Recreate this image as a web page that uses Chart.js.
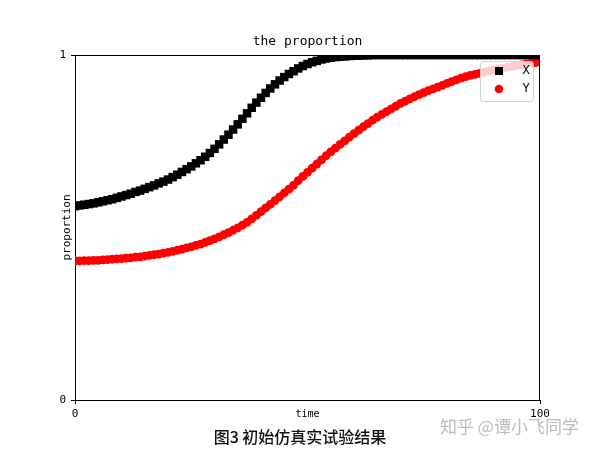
<!DOCTYPE html>
<html><head><meta charset="utf-8">
<script src="https://cdn.jsdelivr.net/npm/chart.js@4.4.0/dist/chart.umd.min.js"></script>
<style>html,body{margin:0;padding:0;background:#fff;}#wrap{width:600px;height:450px;}</style>
</head><body><div id="wrap"><canvas id="c" width="600" height="450"></canvas></div>
<script>
const chartTitle = 'the proportion';
const xAxisTitle = 'time';
const yAxisTitle = 'proportion';
const captionText = '图3 初始仿真实试验结果';
const watermarkText = '知乎 @谭小飞同学';
const xTicks = [0, 100];
const yTicks = [0, 1];
const seriesLabels = ['X', 'Y'];
const seriesX = [
 0.562,0.564,0.566,0.568,0.570,0.573,0.576,0.579,0.582,0.586,
 0.590,0.594,0.598,0.603,0.607,0.612,0.617,0.622,0.628,0.633,
 0.639,0.646,0.653,0.661,0.669,0.677,0.686,0.695,0.705,0.716,
 0.728,0.741,0.755,0.769,0.784,0.799,0.815,0.831,0.847,0.862,
 0.876,0.890,0.903,0.915,0.926,0.936,0.945,0.953,0.961,0.968,
 0.974,0.979,0.983,0.987,0.990,0.992,0.994,0.995,0.996,0.997,
 0.998,0.998,0.999,0.999,1.000,1.000,1.000,1.000,1.000,1.000,
 1.000,1.000,1.000,1.000,1.000,1.000,1.000,1.000,1.000,1.000,
 1.000,1.000,1.000,1.000,1.000,1.000,1.000,1.000,1.000,1.000,
 1.000,1.000,1.000,1.000,1.000,1.000,1.000,1.000,1.000,1.000,
 1.000
];
const seriesY = [
 0.403,0.403,0.404,0.404,0.405,0.405,0.406,0.407,0.408,0.409,
 0.410,0.411,0.412,0.414,0.415,0.417,0.419,0.421,0.423,0.426,
 0.428,0.431,0.434,0.437,0.441,0.444,0.448,0.452,0.457,0.462,
 0.467,0.473,0.479,0.485,0.492,0.499,0.507,0.515,0.525,0.535,
 0.546,0.557,0.567,0.578,0.589,0.600,0.611,0.623,0.636,0.648,
 0.660,0.672,0.684,0.696,0.708,0.719,0.730,0.741,0.751,0.762,
 0.772,0.782,0.792,0.801,0.811,0.820,0.828,0.836,0.844,0.852,
 0.860,0.866,0.873,0.879,0.885,0.891,0.897,0.902,0.907,0.912,
 0.918,0.923,0.928,0.933,0.937,0.941,0.944,0.947,0.950,0.953,
 0.956,0.959,0.962,0.965,0.967,0.969,0.971,0.974,0.976,0.978,
 0.980
];

const MONO = '"DejaVu Sans Mono", monospace';
const CJK = '"Noto Sans CJK SC", sans-serif';

const decor = {
  id: 'decor',
  afterDraw(chart) {
    const ctx = chart.ctx, a = chart.chartArea;
    ctx.save();
    ctx.strokeStyle = '#000'; ctx.lineWidth = 1;
    ctx.beginPath();
    ctx.moveTo(a.left, a.top + 0.5); ctx.lineTo(a.right, a.top + 0.5);
    ctx.moveTo(a.right - 0.5, a.top); ctx.lineTo(a.right - 0.5, a.bottom);
    ctx.stroke();
    ctx.fillStyle = '#000';
    ctx.font = '13px ' + MONO;
    ctx.textAlign = 'center'; ctx.textBaseline = 'alphabetic';
    ctx.fillText(chartTitle, (a.left + a.right) / 2, a.top - 10);
    ctx.font = '10px ' + MONO;
    ctx.textBaseline = 'middle';
    ctx.fillText(xAxisTitle, (a.left + a.right) / 2, a.bottom + 14);
    ctx.save();
    ctx.translate(a.left - 8, (a.top + a.bottom) / 2);
    ctx.rotate(-Math.PI / 2);
    ctx.font = '11px ' + MONO;
    ctx.textBaseline = 'middle';
    ctx.fillText(yAxisTitle, 0, 0);
    ctx.restore();
    const lx = a.right - 60, ly = a.top + 6, lw = 53, lh = 40;
    ctx.fillStyle = 'rgba(255,255,255,0.8)';
    ctx.strokeStyle = '#d0d0d0';
    ctx.beginPath();
    ctx.roundRect(lx + 0.5, ly + 0.5, lw, lh, 3);
    ctx.fill(); ctx.stroke();
    chart.data.datasets.forEach((ds, i) => {
      const cy = ly + 10 + i * 18;
      const cx = lx + 19;
      ctx.fillStyle = ds.backgroundColor;
      if (ds.pointStyle === 'rect') {
        ctx.fillRect(cx - 4, cy - 4, 8, 8);
      } else {
        ctx.beginPath(); ctx.arc(cx, cy, 4.3, 0, Math.PI * 2); ctx.fill();
      }
      ctx.fillStyle = '#000';
      ctx.font = '12px ' + MONO;
      ctx.textAlign = 'center'; ctx.textBaseline = 'middle';
      ctx.fillText(ds.label, lx + 46, cy);
    });
    ctx.fillStyle = '#111';
    ctx.font = '500 16px ' + CJK;
    ctx.textAlign = 'center'; ctx.textBaseline = 'middle';
    ctx.fillText(captionText, 300, 437);
    ctx.fillStyle = 'rgba(150,150,150,0.65)';
    ctx.font = '17px ' + CJK;
    ctx.textAlign = 'left';
    ctx.fillText(watermarkText, 440, 427);
    ctx.restore();
  }
};

const tickFont = { family: MONO, size: 11 };
new Chart(document.getElementById('c'), {
  type: 'scatter',
  data: {
    datasets: [
      { label: seriesLabels[0], data: seriesX.map((v, i) => ({ x: i, y: v })),
        pointStyle: 'rect', pointRadius: 6, pointHoverRadius: 6, borderWidth: 0,
        backgroundColor: '#000', borderColor: '#000', clip: 0 },
      { label: seriesLabels[1], data: seriesY.map((v, i) => ({ x: i, y: v })),
        pointStyle: 'circle', pointRadius: 4.4, pointHoverRadius: 4.4, borderWidth: 0,
        backgroundColor: '#ff0000', borderColor: '#ff0000', clip: 0 }
    ]
  },
  options: {
    responsive: false, animation: false,
    layout: { padding: { top: 55, right: 60, left: 0, bottom: 0 } },
    plugins: { legend: { display: false }, tooltip: { enabled: false }, title: { display: false } },
    scales: {
      x: {
        type: 'linear', min: 0, max: 100,
        afterBuildTicks: s => { s.ticks = xTicks.map(v => ({ value: v })); },
        afterFit: s => { s.height = 50; },
        grid: { display: true, drawOnChartArea: false, drawTicks: true, tickLength: 4, color: '#000' },
        border: { display: true, color: '#000', width: 1 },
        ticks: { color: '#000', font: tickFont, padding: 4, maxRotation: 0, autoSkip: false, callback: v => String(v) }
      },
      y: {
        type: 'linear', min: 0, max: 1,
        afterBuildTicks: s => { s.ticks = yTicks.map(v => ({ value: v })); },
        afterFit: s => { s.width = 75; },
        grid: { display: true, drawOnChartArea: false, drawTicks: true, tickLength: 4, color: '#000' },
        border: { display: true, color: '#000', width: 1 },
        ticks: { color: '#000', font: tickFont, padding: 5, autoSkip: false, callback: v => String(v) }
      }
    }
  },
  plugins: [decor]
});
</script></body></html>
